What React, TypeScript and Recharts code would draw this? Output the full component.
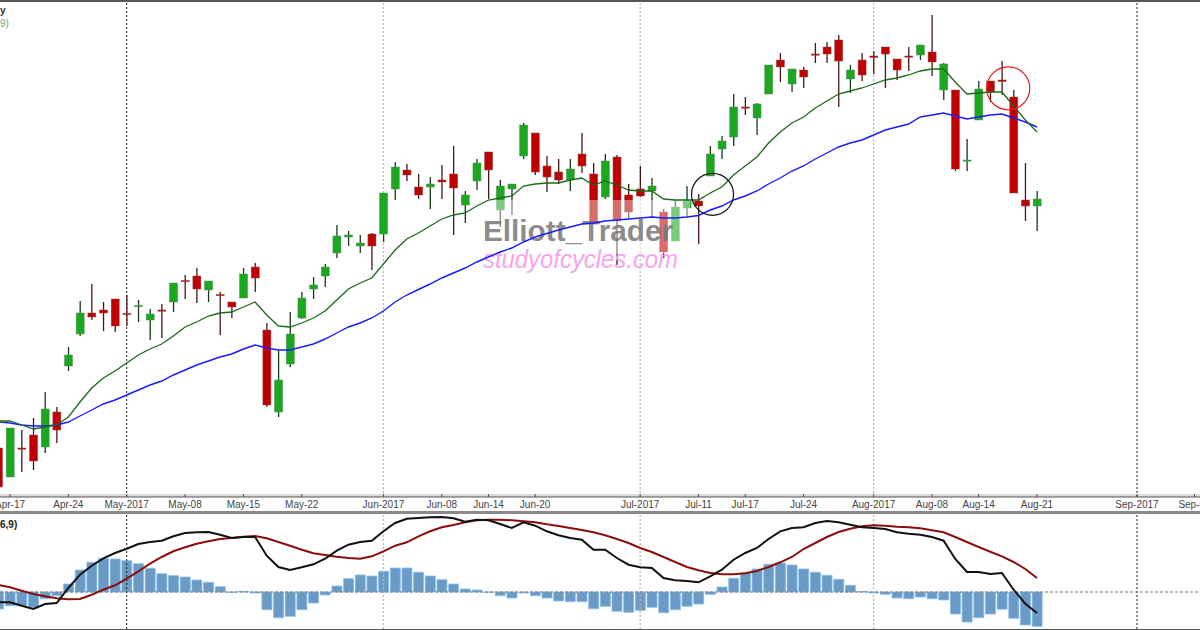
import { Bar, ComposedChart, Line, ReferenceDot, ReferenceArea, ReferenceLine, XAxis, YAxis } from 'recharts'

// price panel (no price scale is visible, units are arbitrary levels)
const opens = [49, 20, 49, 62, 50, 85, 131, 163, 184, 187, 198, 183.5, 190.5, 177, 187, 195, 216.5, 221, 207, 202.5, 195, 199, 230, 167, 85, 133, 179, 208, 221, 244, 260, 251, 263, 263, 308, 327, 310, 310, 317, 323, 292, 316, 345, 287, 308, 341, 364, 331, 325, 317, 343, 323, 300, 340, 302, 308, 306, 285, 256, 289, 296, 321, 348, 360, 390, 379, 403, 437, 413, 427, 443, 450, 457, 418, 437, 441, 450, 438, 441, 442, 445, 407, 407, 336, 377, 416, 417, 400, 297, 291]
const highs = [49, 69, 67, 79, 105, 90, 150, 196, 213, 195, 198, 202, 197, 188, 193, 214, 222, 229, 216, 205, 195, 229, 234, 174, 146, 185, 205, 220, 233, 272, 266, 262, 264, 304, 335, 333, 323, 320, 332, 351, 306, 338, 345, 317, 313, 374, 364, 341, 338, 338, 364, 334, 343, 342, 313, 331, 319, 288, 297, 311, 303, 351, 361, 403, 400, 394, 432, 444, 428, 430, 454, 455, 462, 432, 444, 446, 450, 438, 450, 452, 482, 434, 407, 358, 416, 416, 436, 407, 334, 306]
const lows = [10, 20, 25, 27, 44, 54, 126, 161, 177, 166, 165, 171, 175, 157, 159, 185, 198, 194, 195, 162, 179, 199, 205, 90, 80, 130, 178, 198, 210, 239, 251, 244, 227, 255, 297, 316, 298, 288, 298, 262, 274, 307, 298, 270, 282, 338, 322, 305, 313, 306, 324, 273, 298, 232, 279, 300, 280, 239, 256, 280, 253, 321, 338, 351, 382, 362, 403, 415, 405, 409, 434, 434, 390, 404, 416, 423, 409, 417, 426, 437, 421, 397, 326, 326, 377, 395, 402, 304, 276, 266]
const closes = [10, 69, 48, 36, 88, 67, 142, 184, 180, 184, 171, 182.5, 191.5, 183, 186, 214, 215.5, 208, 216, 201.5, 190, 223, 219, 92, 117, 163, 199, 212, 230, 261, 262, 254, 251, 304, 330, 322, 302, 313, 315, 309, 302, 334, 327, 311, 313, 372, 325, 320, 317, 328, 331, 273, 336, 276, 285, 301, 311, 245, 290, 296, 291, 343, 356, 390, 389, 393, 432, 430, 428, 420, 442, 443, 436, 427, 422, 439.5, 443, 427, 440, 452, 435, 433, 328, 337, 408, 405, 415.5, 304, 291, 298]
const fastAverage = [76, 76, 72, 68, 70, 72, 80, 95, 109, 119, 126, 134, 142, 148, 153, 161, 170, 175, 181, 184, 185, 190, 195, 182, 171, 170, 174, 179, 186, 197, 208, 214, 219, 233, 247, 258, 264, 271, 278, 282, 284, 291, 297, 299, 301, 311, 313, 314, 314, 317, 319, 312, 316, 312, 307, 306, 306, 298, 297, 297, 297, 304, 310, 322, 331, 340, 354, 365, 374, 380, 389, 396, 403, 406, 409, 413, 417, 419, 422, 426, 428, 428, 415, 403, 404, 405, 405, 391, 377, 365]
const slowAverage = [75, 74, 72, 71, 71, 72, 75, 81, 87, 93, 97, 102, 107, 112, 116, 122, 127, 132, 136, 140, 143, 148, 152, 149, 147, 147, 150, 153, 158, 164, 170, 174, 179, 186, 195, 202, 207.5, 213, 219, 224, 229, 235, 240, 245, 249, 255, 260, 263.5, 267, 270, 273, 274, 276, 277, 278, 279, 280, 279, 279, 280, 281.5, 287, 291, 297, 301, 306, 313, 319, 326, 331, 338, 344, 350, 354, 357, 362, 367, 370, 373, 380, 382, 384, 381, 378, 380, 382, 383, 379, 375, 370]

// macd panel
const macdLine = [-10.3, -10.3, -13.7, -17, -12, -11, 4, 17.3, 26.3, 33.7, 39, 43.3, 48, 50, 51.3, 55.7, 59, 59.7, 60, 57.3, 54, 55, 55, 36.3, 25, 22, 24.7, 27.7, 33.3, 41.3, 47.3, 50, 51.3, 60.7, 69, 73.3, 74, 74.7, 75, 73.7, 70.3, 72.3, 71.7, 68, 64, 69.7, 66.3, 60.7, 56.7, 54, 52.3, 42.3, 42.3, 34, 27.3, 24.7, 24, 14, 11.7, 11, 9.7, 15.7, 22.3, 32.3, 39, 44, 53, 60.7, 64, 64.7, 69, 71, 69.7, 67.3, 64.7, 64, 63, 59.7, 58.3, 57.3, 55, 51.3, 33, 20, 20, 18, 19, 2.3, -11.7, -21]
const signalLine = [7, 4.7, 1.3, -2, -4.3, -6.3, -7.3, -7, -2.7, 2.3, 6.7, 13.3, 20.7, 28.3, 35, 40.7, 44.7, 48.3, 50.7, 53, 54, 55.3, 56, 53.7, 50, 46.3, 42.3, 38.7, 37, 35.3, 34, 33.3, 35.7, 40.7, 46.3, 49.7, 55.7, 60.7, 64.7, 67, 69.7, 71.7, 72.3, 72.3, 71.7, 70.7, 69.7, 67.7, 66, 64, 62, 59.7, 56.7, 53, 49, 44, 40, 35, 30, 25, 21.7, 19, 17.7, 17.7, 18.7, 21, 25, 29.7, 35, 43, 49, 55, 60, 63.3, 65.7, 66.7, 66.3, 65.3, 64.7, 63.7, 61.7, 59.7, 55, 50, 45, 40.3, 35.7, 30, 23, 14]
const histogram = [-17, -13.7, -13.7, -15.3, -6.7, -3.7, 8, 22, 29.7, 33.7, 33, 31.3, 28.3, 23.7, 18.3, 16.3, 15, 12, 9.7, 5.3, -0.3, 0.7, -1, -17.7, -25.7, -24.3, -17.7, -11, -3, 6, 13.3, 17, 16, 20.7, 24, 24, 19.7, 16, 12.3, 8, 3, 2, -0.3, -3.7, -6, -1, -3.7, -6, -9, -9.7, -9.7, -16.7, -14.3, -19.3, -20.3, -18.3, -15.3, -20.7, -17.7, -14.3, -12, -2.3, 5, 13.7, 19, 23, 27.7, 29, 27, 23, 19.7, 16.7, 12.7, 6.7, 0.7, -1, -2.3, -6, -6.7, -5, -6.7, -8, -22, -30, -25.7, -22, -17.3, -26.3, -33, -34.3]

// axis: trading session number -> label
const tickSlots = [0, 5, 10, 15, 20, 25, 32, 37, 41, 45, 54, 59, 63, 68, 74, 79, 83, 88, 96.57, 101.5]
const tickLabels = ['Apr-17', 'Apr-24', 'May-2017', 'May-08', 'May-15', 'May-22', 'Jun-2017', 'Jun-08', 'Jun-14', 'Jun-20', 'Jul-2017', 'Jul-11', 'Jul-17', 'Jul-24', 'Aug-2017', 'Aug-08', 'Aug-14', 'Aug-21', 'Sep-2017', 'Sep-05']
const darkMonths = [10, 96.57]
const lightMonths = [32, 54, 74]

const xDomain = [-0.857, 101.97]
const priceDomain = [0, 497]
const font = '"Liberation Sans", Arial, sans-serif'

const priceRows = closes.map((close, i) => ({
  slot: i - 1,
  open: opens[i],
  high: highs[i],
  low: lows[i],
  close,
  fast: fastAverage[i],
  slow: slowAverage[i],
}))

const macdRows = macdLine.map((macd, i) => ({
  slot: i - 1,
  macd,
  signal: signalLine[i],
  hist: histogram[i],
}))

const layer: React.CSSProperties = { position: 'absolute', left: 0, top: 0 }
// price layers all share one plot box: 497px tall, axis strip below it
const plotMargin = { top: 0, right: 0, bottom: 16, left: 0 }

function Candle(props: any) {
  const { x, y, width, height, payload } = props
  const { open, close, high, low } = payload
  const perUnit = height / (high - low)
  const yOf = (v: number) => y + (high - v) * perUnit
  const up = close >= open
  const top = yOf(Math.max(open, close))
  const bodyHeight = Math.max(Math.abs(open - close) * perUnit, 1.2)
  const cx = x + width / 2
  return (
    <g>
      <line x1={cx} x2={cx} y1={y} y2={y + height} stroke={up ? '#123d12' : '#4a1515'} strokeWidth={1.3} />
      <rect
        x={x}
        y={top}
        width={width}
        height={bodyHeight}
        fill={up ? '#1aa81f' : '#c00000'}
        stroke={up ? '#5d8a5d' : '#8a4a4a'}
        strokeWidth={0.5}
      />
    </g>
  )
}

function AxisTick(props: any) {
  const { x, y, payload } = props
  const label = tickLabels[tickSlots.indexOf(payload.value)]
  return (
    <g>
      <line x1={x} x2={x} y1={y - 3} y2={y} stroke="#555" />
      <text x={x} y={y + 11} textAnchor="middle" fontSize={10} fontFamily={font} fill="#444">
        {label}
      </text>
    </g>
  )
}

export default function App() {
  return (
    <div style={{ position: 'absolute', left: 0, top: 0, width: 1200, height: 630, background: '#fff', overflow: 'hidden' }}>
      {/* axis and month lines sit under the candles */}
      <div style={layer}>
        <ComposedChart width={1200} height={513} data={priceRows} margin={{ top: 0, right: 0, bottom: 0, left: 0 }}>
          <XAxis
            dataKey="slot"
            type="number"
            domain={xDomain}
            allowDataOverflow
            ticks={tickSlots}
            interval={0}
            height={16}
            tickLine={false}
            tickSize={0}
            tickMargin={0}
            tick={<AxisTick />}
            stroke="#555"
          />
          <YAxis hide domain={priceDomain} allowDataOverflow />
          <ReferenceArea y1={0} y2={3} fill="#dcdcdc" fillOpacity={1} stroke="none" />
          {darkMonths.map((m) => (
            <ReferenceLine key={m} x={m} stroke="#222" strokeDasharray="2 2" />
          ))}
          {lightMonths.map((m) => (
            <ReferenceLine key={m} x={m} stroke="#b5b5b5" strokeWidth={1.2} strokeDasharray="2 2" />
          ))}
        </ComposedChart>
      </div>

      <div style={layer}>
        <ComposedChart width={1200} height={513} data={priceRows} margin={plotMargin}>
          <XAxis hide dataKey="slot" type="number" domain={xDomain} allowDataOverflow />
          <YAxis hide domain={priceDomain} allowDataOverflow />
          <Bar dataKey={(d: any) => [d.low, d.high]} barSize={8} shape={<Candle />} isAnimationActive={false} />
        </ComposedChart>
      </div>

      {/* watermark: its white backing fades the candles, the lines stay on top */}
      <svg width={1200} height={513} style={{ ...layer, pointerEvents: 'none' }}>
        <rect x={478} y={200} width={212} height={54} fill="#fff" fillOpacity={0.42} />
        <text x={483} y={240.5} fontSize={29} fontWeight="bold" fontFamily={font} fill="#777" fillOpacity={0.85} textLength={190} lengthAdjust="spacingAndGlyphs">
          Elliott_Trader
        </text>
        <text x={483} y={268} fontSize={25} fontStyle="italic" fontFamily={font} fill="#f7a3ee" textLength={195} lengthAdjust="spacingAndGlyphs">
          studyofcycles.com
        </text>
      </svg>

      <div style={layer}>
        <ComposedChart width={1200} height={513} data={priceRows} margin={plotMargin}>
          <XAxis hide dataKey="slot" type="number" domain={xDomain} allowDataOverflow />
          <YAxis hide domain={priceDomain} allowDataOverflow />
          <Line dataKey="slow" stroke="#1a1aff" strokeWidth={1.4} dot={false} isAnimationActive={false} />
          <Line dataKey="fast" stroke="#1b691b" strokeWidth={1.3} dot={false} isAnimationActive={false} />
          <ReferenceDot x={60.2} y={302.7} r={21} fill="none" stroke="#111" strokeWidth={1.2} />
          <ReferenceDot x={85.54} y={408.7} r={21.5} fill="none" stroke="#ee1c1c" strokeWidth={1.2} />
        </ComposedChart>
      </div>

      <div style={{ position: 'absolute', left: 0, top: 514 }}>
        <ComposedChart width={1200} height={115} data={macdRows} margin={{ top: 0, right: 0, bottom: 0, left: 0 }}>
          <XAxis hide dataKey="slot" type="number" domain={xDomain} allowDataOverflow />
          <YAxis hide domain={[-37, 78]} allowDataOverflow />
          {darkMonths.map((m) => (
            <ReferenceLine key={m} x={m} stroke="#222" strokeDasharray="2 2" />
          ))}
          {lightMonths.map((m) => (
            <ReferenceLine key={m} x={m} stroke="#b5b5b5" strokeWidth={1.2} strokeDasharray="2 2" />
          ))}
          <Bar dataKey="hist" barSize={10} fill="#6a9bc6" stroke="#86bdec" strokeWidth={0.8} isAnimationActive={false} />
          <ReferenceLine y={0} stroke="#777" strokeDasharray="3 2" />
          <Line dataKey="signal" stroke="#8b0d0d" strokeWidth={2} dot={false} isAnimationActive={false} />
          <Line dataKey="macd" stroke="#111" strokeWidth={2} dot={false} isAnimationActive={false} />
        </ComposedChart>
      </div>

      <div style={{ position: 'absolute', left: 0, top: 0, width: 1200, height: 1.5, background: '#555' }} />
      <div style={{ position: 'absolute', left: 0, top: 511, width: 1200, height: 2.5, background: '#8a8a8a' }} />
      <div style={{ position: 'absolute', left: 0, top: 629, width: 1200, height: 1, background: '#555' }} />

      <svg width={1200} height={630} style={{ ...layer, pointerEvents: 'none' }}>
        <text x={0} y={14} fontSize={10} fontWeight="bold" fontFamily={font} fill="#333">y</text>
        <text x={0} y={27} fontSize={10} fontFamily={font} fill="#6fa86f">9)</text>
        <text x={0} y={528} fontSize={10} fontWeight="bold" fontFamily={font} fill="#222">6,9)</text>
      </svg>
    </div>
  )
}
